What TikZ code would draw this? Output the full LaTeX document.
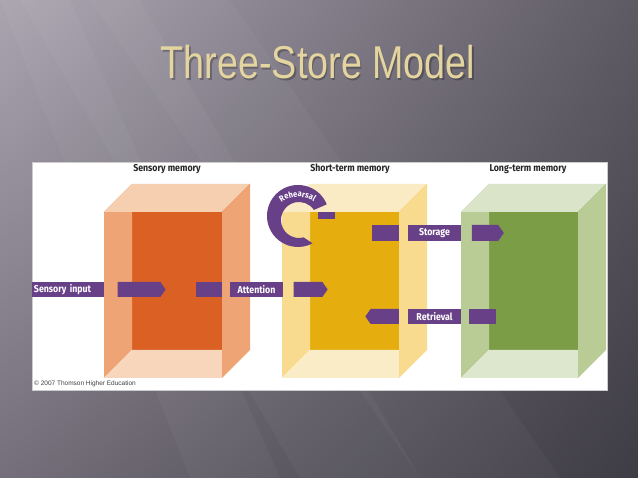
\documentclass[tikz,border=0pt]{standalone}
\usepackage{fontspec}
\usetikzlibrary{shapes.symbols,decorations.text,shadings}
\setmainfont{Liberation Sans}
\newfontfamily\labelfont{Fira Sans}[FakeStretch=0.88]
\newfontfamily\titlefont{Liberation Sans}[FakeStretch=0.82]

\definecolor{arrowpurple}{RGB}{104,64,135}
\definecolor{titlegold}{RGB}{228,213,160}
\definecolor{bgtl}{RGB}{170,164,176}
\definecolor{bgtr}{RGB}{94,90,100}
\definecolor{bgbl}{RGB}{116,111,122}
\definecolor{bgbr}{RGB}{62,60,68}
\definecolor{sensback}{RGB}{218,96,36}
\definecolor{sensside}{RGB}{239,164,117}
\definecolor{senstop}{RGB}{246,207,177}
\definecolor{sensfloor}{RGB}{248,214,188}
\definecolor{stmback}{RGB}{229,174,14}
\definecolor{stmside}{RGB}{248,219,143}
\definecolor{stmtop}{RGB}{251,235,196}
\definecolor{stmfloor}{RGB}{251,236,200}
\definecolor{ltmback}{RGB}{122,157,70}
\definecolor{ltmside}{RGB}{185,204,150}
\definecolor{ltmtop}{RGB}{218,228,200}
\definecolor{ltmfloor}{RGB}{221,231,206}

\begin{document}
\begin{tikzpicture}[x=1pt, y=1pt,
    purplebox/.style={fill=arrowpurple, inner sep=0pt, minimum height=15pt, text=white,
        font=\labelfont\bfseries\fontsize{10}{11}\selectfont},
    pointer/.style={purplebox, signal, signal from=nowhere, signal pointer angle=110},
    heading/.style={font=\labelfont\bfseries\fontsize{10}{11}\selectfont, text=black!85}]
\useasboundingbox (0,0) rectangle (638,478);

% slide background
\shade[upper left=bgtl, upper right=bgtr, lower left=bgbl, lower right=bgbr] (0,0) rectangle (638,478);
\fill[white, opacity=0.035] (20,478) -- (140,478) -- (420,0) -- (300,0) -- cycle;
\fill[white, opacity=0.035] (0,478) -- (70,478) -- (280,0) -- (190,0) -- cycle;
\fill[white, opacity=0.03] (90,478) -- (230,478) -- (560,0) -- (420,0) -- cycle;

% title
\node[anchor=base, font=\titlefont\fontsize{46}{50}\selectfont, text=black, opacity=0.25] at (319.5,397) {Three-Store Model};
\node[anchor=base, font=\titlefont\fontsize{46}{50}\selectfont, text=titlegold] (title) at (318,399) {Three-Store Model};

% white panel
\draw[black!20, fill=white] (32,88) rectangle (607,316);

% back walls, inner walls and floors
\fill[sensback] (132,128) rectangle (250,294);
\fill[sensside] (104,100) -- (104,266) -- (132,294) -- (132,128) -- cycle;
\fill[sensfloor] (104,100) -- (222,100) -- (250,128) -- (132,128) -- cycle;
\fill[stmback] (310,128) rectangle (427,294);
\fill[stmside] (282,100) -- (282,266) -- (310,294) -- (310,128) -- cycle;
\fill[stmfloor] (282,100) -- (399,100) -- (427,128) -- (310,128) -- cycle;
\fill[ltmback] (489,128) rectangle (606,294);
\fill[ltmside] (461,100) -- (461,266) -- (489,294) -- (489,128) -- cycle;
\fill[ltmfloor] (461,100) -- (578,100) -- (606,128) -- (489,128) -- cycle;

% pieces that run behind the outer faces
\node[purplebox, minimum width=32pt] (sensout) at (212,188.5) {};
\node[purplebox, minimum width=32pt, minimum height=16pt] (tostore) at (388,245) {};
\node[pointer, signal to=west, minimum width=36pt] (recall) at (386,161.5) {};
\node[purplebox, minimum width=17pt, minimum height=14pt] (loopin) at (326.5,266) {};

% top and right faces
\fill[senstop] (104,266) -- (222,266) -- (250,294) -- (132,294) -- cycle;
\fill[sensside] (222,100) -- (222,266) -- (250,294) -- (250,128) -- cycle;
\fill[stmtop] (282,266) -- (399,266) -- (427,294) -- (310,294) -- cycle;
\fill[stmside] (399,100) -- (399,266) -- (427,294) -- (427,128) -- cycle;
\fill[ltmtop] (461,266) -- (578,266) -- (606,294) -- (489,294) -- cycle;
\fill[ltmside] (578,100) -- (578,266) -- (606,294) -- (606,128) -- cycle;

% headings
\node[heading] (sensory) at (167,309) {Sensory memory};
\node[heading] (shortterm) at (350,309) {Short-term memory};
\node[heading] (longterm) at (528,309) {Long-term memory};

% flow of information
\node[purplebox, minimum width=72pt, text width=68pt, align=left] (input) at (68,188.5) {Sensory input};
\node[pointer, signal to=east, minimum width=48pt] (sensin) at (139,188.5) {};
\node[purplebox, minimum width=53pt] (attention) at (256.5,188.5) {Attention};
\node[pointer, signal to=east, minimum width=34pt] (stmin) at (308,188.5) {};
\node[purplebox, minimum width=53pt, minimum height=16pt] (storage) at (434.5,245) {Storage};
\node[pointer, signal to=east, minimum width=32pt, minimum height=16pt] (ltmin) at (485,245) {};
\node[purplebox, minimum width=53pt] (retrieval) at (434.5,161.5) {Retrieval};
\node[purplebox, minimum width=27pt] (ltmout) at (482.5,161.5) {};

% rehearsal loop
\coordinate (loopout) at (298,262);
\coordinate (loopmid) at (299,258);
\fill[arrowpurple] (loopout) ++(22:31) arc[start angle=22, end angle=298, radius=31]
    -- ([shift={(285:18)}]loopmid) arc[start angle=285, end angle=34, radius=18] -- cycle;
\path[decorate, decoration={text along path, text align=center,
    text={|\labelfont\bfseries\fontsize{8.5}{9}\selectfont\color{white}|Rehearsal}}]
    (298,253) ++(146:28) arc[start angle=146, end angle=36, radius=28];

\node[anchor=west, inner sep=0pt, font=\fontsize{6.5}{7}\selectfont, text=black!75] (credit) at (34,94) {\textcopyright{} 2007 Thomson Higher Education};
\end{tikzpicture}
\end{document}
